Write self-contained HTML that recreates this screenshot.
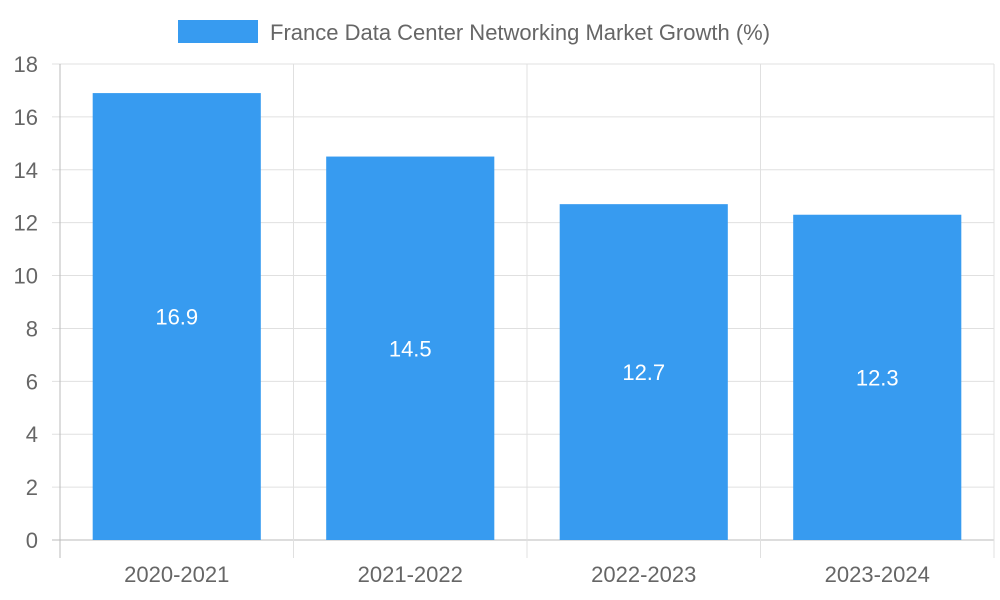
<!DOCTYPE html>
<html><head><meta charset="utf-8"><style>
html,body{margin:0;padding:0;background:#fff;}
svg{display:block;font-family:"Liberation Sans",sans-serif;}
</style></head><body>
<svg id="chart" width="1000" height="600"></svg>
<script>
const categories = ["2020-2021","2021-2022","2022-2023","2023-2024"];
const growthValues = [16.9,14.5,12.7,12.3];
const yTicks = [0,2,4,6,8,10,12,14,16,18];
const seriesLabel = "France Data Center Networking Market Growth (%)";

const NS="http://www.w3.org/2000/svg";
const svg=document.getElementById('chart');
const L=60,R=994,T=64,B=540,yMax=18;
const y=v=>B-(v/yMax)*(B-T);
const bw=(R-L)/categories.length;
const xc=i=>L+bw*(i+0.5);
function mk(tag,attrs,parent){const e=document.createElementNS(NS,tag);for(const k in attrs)e.setAttribute(k,attrs[k]);(parent||svg).appendChild(e);return e;}

// legend
const lg=mk('g',{});


const lb=mk('rect',{x:178,y:20,width:80,height:23,fill:'#379bf0'},lg);


const lt=mk('text',{x:270,y:40,'font-size':22,fill:'#666'},lg);
lt.textContent=seriesLabel;



// horizontal grid + y ticks
yTicks.forEach(t=>{
  const gl=mk('line',{x1:52,x2:R,y1:y(t),y2:y(t),stroke:t===0?'#bbb':'#e0e0e0','stroke-width':1});
  
  
  const tx=mk('text',{x:38,y:y(t)+8,'font-size':22,fill:'#666','text-anchor':'end'});
  tx.textContent=t;
  
  
});
// vertical grid
for(let i=0;i<=categories.length;i++){
  const x=L+bw*i;
  const vl=mk('line',{x1:x,x2:x,y1:T,y2:558,stroke:i===0?'#bbb':'#e0e0e0','stroke-width':1});
  
  
}
// bars
categories.forEach((c,i)=>{
  const v=growthValues[i];
  const w=bw*0.72;
  const r=mk('rect',{x:xc(i)-w/2,y:y(v),width:w,height:B-y(v),fill:'#379bf0'});
  
  
  const vt=mk('text',{x:xc(i),y:(y(v)+B)/2+8,'font-size':22,fill:'#fff','text-anchor':'middle'});
  vt.textContent=v;
  
  
  const xt=mk('text',{x:xc(i),y:582,'font-size':22,fill:'#666','text-anchor':'middle'});
  xt.textContent=c;
  
  
});
const ax=mk('line',{x1:L,x2:L,y1:T,y2:558,stroke:'#bbb'});


</script>
</body></html>
